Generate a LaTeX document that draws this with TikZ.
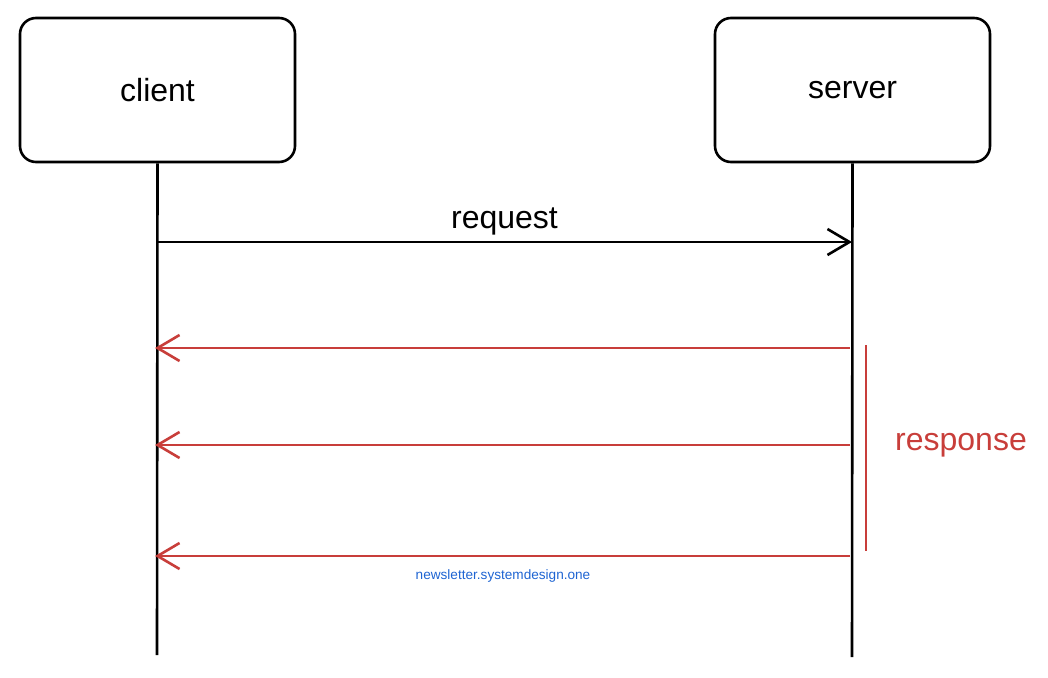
\documentclass[tikz,border=0pt]{standalone}
\usepackage{fontspec}
\setmainfont{Liberation Sans}
\usetikzlibrary{arrows.meta}
\definecolor{rd}{RGB}{200,62,58}
\definecolor{bl}{RGB}{30,100,210}
\begin{document}
\begin{tikzpicture}[x=1pt,y=-1pt,
  box/.style={draw,line width=2.6pt,rounded corners=16pt,minimum width=275pt,minimum height=144pt,font=\fontsize{32}{36}\selectfont},
  life/.style={line width=2.6pt},
  msg/.style={line width=2.6pt,-{Straight Barb[length=22pt,width=26pt,line width=2.6pt]}},
  lbl/.style={font=\fontsize{32}{36}\selectfont}]
\useasboundingbox (0,0) rectangle (1048,677);
\node[box] (client) at (157.5,90) {client};
\node[box] (server) at (852.5,90) {server};
\coordinate (cb) at (157,655);
\coordinate (sb) at (852,657);
\draw[life] (client.south) -- (cb);
\draw[life] (server.south) -- (sb);
\coordinate (r1) at (157,242); \coordinate (r2) at (852,242);
\draw[msg] (r1) -- node[lbl,above=2pt] {request} (r2);
\foreach \y/\n in {348/a,445/b,556/c}{
  \coordinate (s\n) at (850,\y); \coordinate (c\n) at (155,\y);
  \draw[msg,rd] (s\n) -- (c\n);
}
\coordinate (t1) at (866,345); \coordinate (t2) at (866,551);
\draw[rd,line width=2.6pt] (t1) -- (t2);
\node[lbl,text=rd] (resp) at (961,445) {response};
\node[text=bl,font=\fontsize{13.6}{16}\selectfont] (wm) at (503,576) {newsletter.systemdesign.one};
\end{tikzpicture}
\end{document}
